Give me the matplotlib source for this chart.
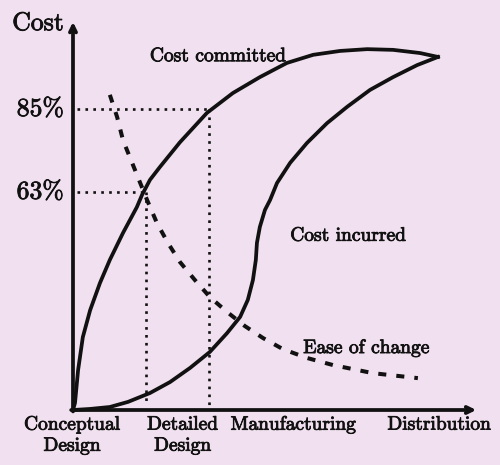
import matplotlib.pyplot as plt
import matplotlib.patheffects as pe

# curves (x: project phase scale 0-10, y: % of cost)
committed_x = [0, 0.055, 0.14, 0.27, 0.47, 0.74, 1.01, 1.37, 1.75, 1.89, 2.11, 2.38, 2.93,
               3.67, 4.38, 5.12, 5.86, 6.58, 7.32, 8.06, 8.77, 9.51, 10.0]
committed_y = [0, 2.0, 11.3, 20.6, 28.2, 35.9, 42.4, 50.0, 57.3, 60.7, 65.0, 68.6, 75.6,
               83.9, 89.5, 94.0, 98.0, 100.3, 101.4, 101.9, 101.7, 100.8, 99.7]

incurred_x = [0, 0.47, 1.01, 1.51, 2.11, 2.66, 3.21, 3.75, 4.22, 4.58, 4.79, 4.93, 5.01,
              5.04, 5.12, 5.26, 5.40, 5.59, 5.95, 6.41, 6.96, 7.51, 8.14, 8.77, 9.43, 10.0]
incurred_y = [0, 0.3, 0.85, 2.3, 4.8, 7.9, 11.9, 16.4, 21.7, 26.3, 31.1, 36.7, 42.4,
              47.2, 51.7, 56.5, 59.3, 64.1, 69.8, 75.4, 81.0, 85.6, 90.4, 94.0, 97.4, 99.7]

ease_x = [1.01, 1.21, 1.37, 1.62, 2.03, 2.30, 2.60, 2.93, 3.34, 3.75, 4.22, 4.71, 5.21,
          5.75, 6.41, 7.12, 8.22, 9.45]
ease_y = [89.0, 82.7, 76.2, 69.8, 59.3, 52.8, 47.2, 41.8, 36.7, 31.9, 27.7, 23.7, 20.3,
          17.2, 14.7, 12.7, 10.4, 9.0]

marks = [61.6, 85.0]          # % levels on the y axis
marks_x = [2.0, 3.73]         # where the dotted drops sit
mark_labels = ['63%', '85%']

phases = ['Conceptual\nDesign', 'Detailed\nDesign', 'Manufacturing', 'Distribution']
phase_x = [-0.03, 3.0, 6.03, 10.03]

bg = '#f1e0ef'
ink = '#111111'
font = 'cmr10'
bold = [pe.withStroke(linewidth=0.6, foreground=ink)]

fig = plt.figure(figsize=(5.0, 4.65), dpi=100, facecolor=bg)
ax = fig.add_axes([0, 0, 1, 1])
ax.set_facecolor(bg)
ax.set_xlim(-2.0, 11.7)
ax.set_ylim(-15.53, 115.78)
ax.axis('off')

# axes with arrows
arrow = dict(arrowstyle='->,head_length=0.45,head_width=0.22', lw=2.7, color=ink,
             shrinkA=0, shrinkB=0)
ax.annotate('', xy=(0, 109.6), xytext=(0, -0.4), arrowprops=arrow)
ax.annotate('', xy=(11.05, 0), xytext=(-0.05, 0), arrowprops=arrow)

# dotted guides
for lvl, xm in zip(marks, marks_x):
    ax.plot([0.11, xm], [lvl, lvl], color=ink, lw=1.9, ls=(0, (1, 2.0)))
    ax.plot([xm, xm], [lvl, 1.5], color=ink, lw=1.9, ls=(0, (1, 2.0)))

ax.plot(committed_x, committed_y, color=ink, lw=2.7, solid_joinstyle='round')
ax.plot(incurred_x, incurred_y, color=ink, lw=2.7, solid_joinstyle='round')
ax.plot(ease_x, ease_y, color=ink, lw=2.9, ls=(0, (2.0, 2.5)))

for lvl, lab in zip(marks, mark_labels):
    ax.text(-0.25, lvl, lab, ha='right', va='center', fontsize=18.5, family=font,
            color=ink, path_effects=bold)
ax.text(-0.25, 109.2, 'Cost', ha='right', va='center', fontsize=18.5, family=font,
        color=ink, path_effects=bold)

ax.text(3.97, 99.9, 'Cost committed', ha='center', va='center', fontsize=14, family=font,
        color=ink, path_effects=bold)
ax.text(7.53, 49.2, 'Cost incurred', ha='center', va='center', fontsize=14, family=font,
        color=ink, path_effects=bold)
ax.text(8.03, 17.5, 'Ease of change', ha='center', va='center', fontsize=14, family=font,
        color=ink, path_effects=bold)

for px, lab in zip(phase_x, phases):
    ax.text(px, -1.6, lab, ha='center', va='top', fontsize=14, family=font, color=ink,
            linespacing=1.22, path_effects=bold)

fig.savefig('out.png', dpi=100, facecolor=bg)
